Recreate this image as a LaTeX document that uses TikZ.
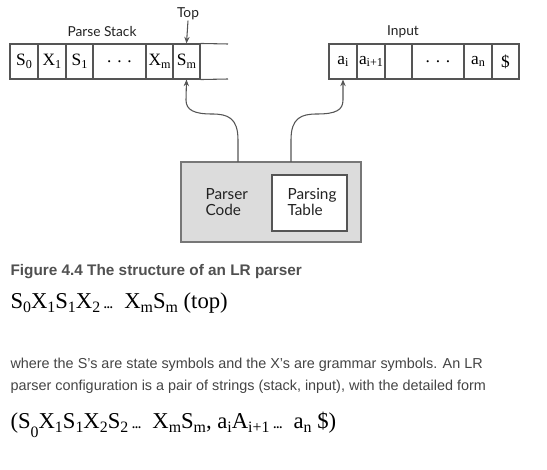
\documentclass[tikz,border=0pt]{standalone}
\usepackage{fontspec}
\setmainfont{Liberation Serif}
\newfontfamily\dsans{Lato}
\newfontfamily\arialf{Liberation Sans}
\usetikzlibrary{arrows.meta}
\definecolor{linec}{HTML}{555555}
\definecolor{boxfill}{HTML}{DCDCDC}
\definecolor{capc}{HTML}{505050}
\definecolor{parac}{HTML}{444444}
\definecolor{lblc}{HTML}{222222}
\newcommand\lo[2][0.35ex]{\raisebox{-#1}{\scalebox{0.7}{#2}}}
\begin{document}
\begin{tikzpicture}[x=0.75pt,y=-0.75pt,line width=0.8pt,
  cell/.style={draw=linec,minimum height=26.25pt,inner sep=0pt,font=\fontsize{13}{15}\selectfont},
  lbl/.style={font=\dsans\fontsize{10.3}{12}\selectfont,text=lblc,inner sep=0pt},
  blbl/.style={font=\dsans\fontsize{11.5}{12.5}\selectfont,text=lblc,inner sep=0pt,align=left,anchor=west},
  arr/.style={draw=linec,-{Stealth[length=5pt,width=4pt]}},
  plain/.style={draw=linec}]
\useasboundingbox (0,0) rectangle (547,470);
% parse stack
\node[cell,minimum width=21pt] (s0) at (24,61.5) {S\lo{0}};
\node[cell,minimum width=21pt] (x1) at (52,61.5) {X\lo{1}};
\node[cell,minimum width=20.25pt] (s1) at (79.5,61.5) {S\lo{1}};
\node[cell,minimum width=39.75pt] (sd) at (119.5,61.5) {. . .};
\node[cell,minimum width=20.25pt] (xm) at (159.5,61.5) {X\lo{m}};
\node[cell,minimum width=20.25pt] (sm) at (186.5,61.5) {S\lo{m}};
\coordinate (stt) at (228,44);
\coordinate (stb) at (228,79);
\draw[plain] (sm.north east) -- (stt);
\draw[plain] (sm.south east) -- (stb);
\node[lbl] (pst) at (102,32) {Parse Stack};
\node[lbl] (top) at (188,14) {Top};
\draw[arr] (top.south) -- (sm.north);
% input
\node[cell,minimum width=21pt] (ai) at (343,61.5) {a\lo{i}};
\node[cell,minimum width=21pt] (ai1) at (371,61.5) {a\lo{i+1}};
\node[cell,minimum width=20.25pt] (ie) at (398.5,61.5) {};
\node[cell,minimum width=39pt] (id) at (438,61.5) {. . .};
\node[cell,minimum width=21pt] (an) at (478,61.5) {a\lo{n}};
\node[cell,minimum width=20.25pt] (dol) at (505.5,61.5) {\$};
\node[lbl] (inp) at (403,32) {Input};
% parser box
\node[draw=linec!80,fill=boxfill,minimum width=135pt,minimum height=60pt,inner sep=0pt] (pb) at (271,202) {};
\node[draw=linec,fill=white,minimum width=56.25pt,minimum height=42pt,inner sep=0pt] (pt) at (309.5,203) {};
\node[blbl] (pc) at (205,202) {Parser\\Code};
\node[blbl] (ptl) at (287,202) {Parsing\\Table};
\coordinate (o1) at (238,162);
\coordinate (o2) at (291,162);
\draw[arr] (o1) -- (238,140) .. controls (238,118) and (228,114) .. (212,114) .. controls (194,114) and (186,110) .. (186,100) -- (sm.south);
\draw[arr] (o2) -- (291,140) .. controls (291,118) and (301,114) .. (317,114) .. controls (336,114) and (343,110) .. (343,100) -- (ai.south);
% caption and text
\node[anchor=west,inner sep=0pt,text=capc,font=\arialf\bfseries\fontsize{11.5}{13}\selectfont] (cap) at (10,272) {Figure 4.4 The structure of an LR parser};
\node[anchor=west,inner sep=0pt,font=\fontsize{17}{19}\selectfont] (f1) at (10,303) {S\lo{0}X\lo{1}S\lo{1}X\lo{2}\,{\small\bfseries...}\enspace X\lo{m}S\lo{m} (top)};
\node[anchor=west,inner sep=0pt,text=parac,font=\arialf\fontsize{10.8}{13}\selectfont] (p1) at (10,365) {where the S’s are state symbols and the X’s are grammar symbols. An LR};
\node[anchor=west,inner sep=0pt,text=parac,font=\arialf\fontsize{10.8}{13}\selectfont] (p2) at (10,387) {parser configuration is a pair of strings (stack, input), with the detailed form};
\node[anchor=west,inner sep=0pt,font=\fontsize{17}{19}\selectfont] (f2) at (10,425) {(S\lo[0.8ex]{0}X\lo{1}S\lo{1}X\lo{2}S\lo{2}\,{\small\bfseries...}\enspace X\lo{m}S\lo{m}, a\lo{i}A\lo{i+1}\,{\small\bfseries...}\enspace a\lo{n} \$)};
\end{tikzpicture}
\end{document}
